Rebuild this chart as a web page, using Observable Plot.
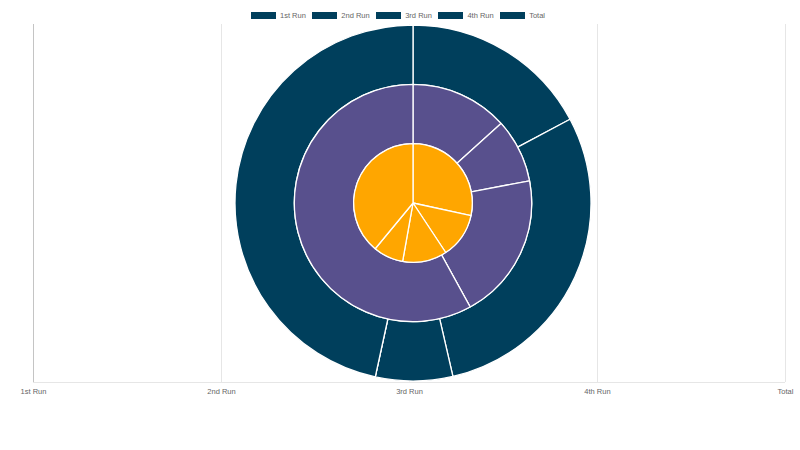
<!DOCTYPE html>
<html>
<head>
<meta charset="utf-8">
<script src="https://cdn.jsdelivr.net/npm/d3@7"></script>
<script src="https://cdn.jsdelivr.net/npm/@observablehq/plot@0.6"></script>
<style>
  html, body { margin: 0; padding: 0; background: #fff; }
  body { width: 800px; height: 450px; overflow: hidden; font-family: "Liberation Sans", Arial, sans-serif; }
  #legend { height: 24px; box-sizing: border-box; padding-top: 11px; display: flex; justify-content: center; gap: 6.5px; padding-right: 4px; }
  .item { display: flex; align-items: center; height: 9px; font-size: 7.5px; color: #666; }
  .sw { width: 25px; height: 6.5px; margin-right: 4px; }
</style>
</head>
<body>
<div id="legend"></div>
<div id="chart"></div>
<script>
// Category labels (shared by every ring)
const labels = ["1st Run", "2nd Run", "3rd Run", "4th Run", "Total"];
// Ring values, outermost first
const outerValues  = [17.2, 29.2, 7.0, 0, 46.6];
const middleValues = [13.3, 8.7, 20.0, 0, 58.0];
const innerValues  = [28.4, 12.3, 12.1, 8.2, 39.0];
const ringNames  = ["outer", "middle", "inner"];
const ringColors = ["#003f5c", "#58508d", "#ffa600"];
const legendColor = "#003f5c";

// Legend
const legend = document.getElementById("legend");
labels.forEach(l => {
  const it = document.createElement("div");
  it.className = "item";
  it.innerHTML = `<span class="sw" style="background:${legendColor}"></span><span>${l}</span>`;
  legend.appendChild(it);
});

// Build slice table
const pie = d3.pie().sort(null).value(d => d);
const slices = [];
[outerValues, middleValues, innerValues].forEach((vals, r) => {
  pie(vals).forEach((a, i) => {
    slices.push({ring: r, ringName: ringNames[r], label: labels[i], value: vals[i], startAngle: a.startAngle, endAngle: a.endAngle});
  });
});

// Render-only mark: the pie, placed with the plot's x and y scales and coloured with its color scale
function pieMark(index, scales) {
  const x0 = scales.x(labels[0]), x1 = scales.x(labels[labels.length - 1]);
  const y0 = scales.y(0), y1 = scales.y(1);
  const cx = (x0 + x1) / 2 + 4;
  const cy = (y0 + y1) / 2;
  const R = (y0 - y1) / 2 - 1;
  const w = R / 3;
  const arc = d3.arc();
  const g = d3.create("svg:g").attr("transform", `translate(${cx},${cy})`);
  g.selectAll("path").data(slices).join("path")
    .attr("d", s => arc({
      innerRadius: R - (s.ring + 1) * w,
      outerRadius: R - s.ring * w,
      startAngle: s.startAngle,
      endAngle: s.endAngle
    }))
    .attr("fill", s => scales.color(s.ringName))
    .attr("stroke", "#fff")
    .attr("stroke-width", 1.3)
    .attr("stroke-linejoin", "bevel");
  return g.node();
}

const chart = Plot.plot({
  width: 800,
  height: 426,
  marginTop: 0,
  marginBottom: 68,
  marginLeft: 33,
  marginRight: 15,
  style: {fontFamily: "Liberation Sans, Arial, sans-serif", background: "#fff"},
  x: {type: "point", domain: labels, padding: 0},
  y: {domain: [0, 1], axis: null},
  color: {type: "ordinal", domain: ringNames, range: ringColors},
  marks: [
    Plot.gridX(labels, {stroke: "#e6e6e6", strokeOpacity: 1}),
    Plot.ruleY([0], {stroke: "#e6e6e6"}),
    Plot.ruleX([labels[0]], {stroke: "#c4c4c4"}),
    Plot.axisX({tickSize: 0, tickPadding: 6, fontSize: 7.5, fill: "#666", label: null}),
    Plot.dot(slices, {fill: "ringName", r: 0}),
    pieMark
  ]
});
document.getElementById("chart").appendChild(chart);
</script>
</body>
</html>
